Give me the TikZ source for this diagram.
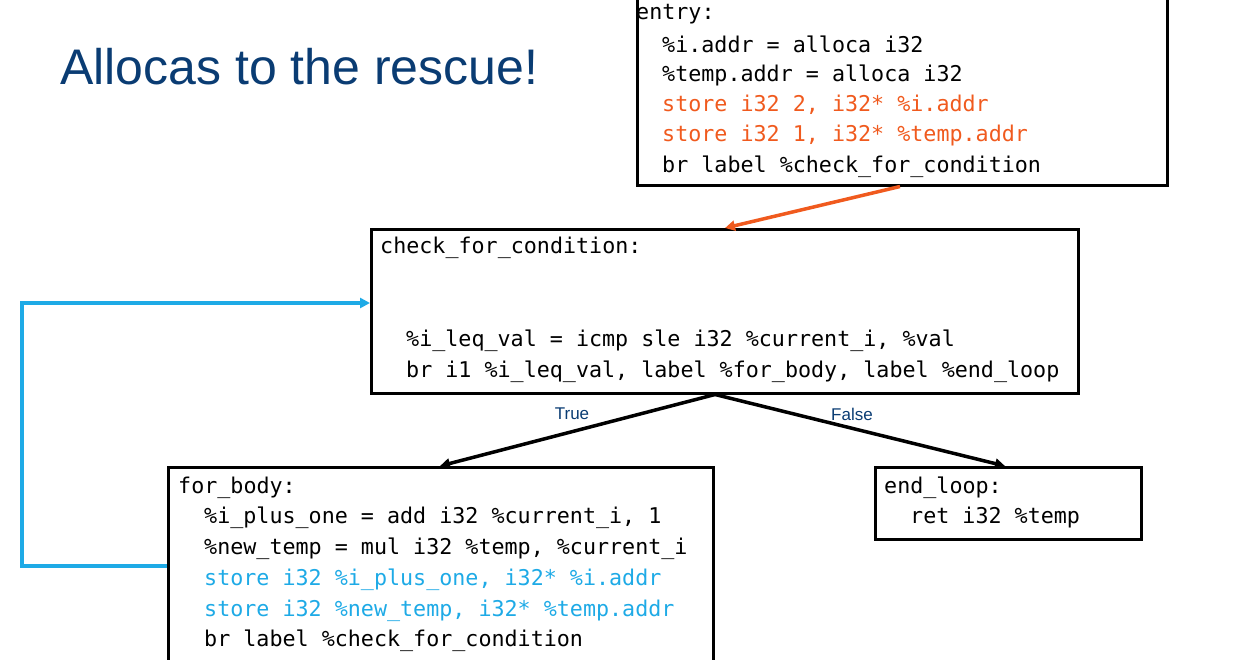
\documentclass[tikz,border=0pt]{standalone}
\usepackage{fontspec}
\setmainfont{Liberation Sans}
\newfontfamily\codefont{DejaVu Sans Mono}
\usetikzlibrary{arrows.meta,calc}
\definecolor{titleblue}{RGB}{10,60,115}
\definecolor{codeorange}{RGB}{240,90,30}
\definecolor{codeblue}{RGB}{30,170,230}
\begin{document}
\begin{tikzpicture}[x=1pt,y=-1pt,
  box/.style={draw,line width=2.5pt,inner sep=0pt,anchor=north west},
  code/.style={anchor=west,inner sep=0pt,font=\codefont\fontsize{21.7}{24}\selectfont},
  lbl/.style={inner sep=0pt,font=\fontsize{17}{19}\selectfont,text=titleblue},
  flow/.style={line width=3.5pt,-{Triangle[length=10pt,width=10pt]}}]
\useasboundingbox (0,0) rectangle (1242,659);
\node[anchor=west,inner sep=0pt,text=titleblue,font=\fontsize{50}{54}\selectfont] (title) at (60,67) {Allocas to the rescue!};
% boxes
\node[box,minimum width=530pt,minimum height=189pt] (entry) at (636,-5) {};
\node[box,minimum width=707pt,minimum height=164pt] (check) at (370,228) {};
\node[box,minimum width=545pt,minimum height=210pt] (body) at (167,466) {};
\node[box,minimum width=266pt,minimum height=72pt] (end) at (874,466) {};
% entry text
\node[code] (e0) at (636,14) {entry:};
\node[code] (e1) at (662,44) {\%i.addr = alloca i32};
\node[code] (e2) at (662,75) {\%temp.addr = alloca i32};
\node[code,text=codeorange] (e3) at (662,105) {store i32 2, i32* \%i.addr};
\node[code,text=codeorange] (e4) at (662,136) {store i32 1, i32* \%temp.addr};
\node[code] (e5) at (662,167) {br label \%check\_for\_condition};
% check text
\node[code] (c0) at (380,248) {check\_for\_condition:};
\node[code] (c1) at (406,341) {\%i\_leq\_val = icmp sle i32 \%current\_i, \%val};
\node[code] (c2) at (406,372) {br i1 \%i\_leq\_val, label \%for\_body, label \%end\_loop};
% body text
\node[code] (b0) at (178,488) {for\_body:};
\node[code] (b1) at (204,518) {\%i\_plus\_one = add i32 \%current\_i, 1};
\node[code] (b2) at (204,549) {\%new\_temp = mul i32 \%temp, \%current\_i};
\node[code,text=codeblue] (b3) at (204,580) {store i32 \%i\_plus\_one, i32* \%i.addr};
\node[code,text=codeblue] (b4) at (204,611) {store i32 \%new\_temp, i32* \%temp.addr};
\node[code] (b5) at (204,641) {br label \%check\_for\_condition};
% end text
\node[code] (d0) at (884,488) {end\_loop:};
\node[code] (d1) at (910,518) {ret i32 \%temp};
% connectors
\coordinate (eo) at ($(entry.south west)+(264,0)$);
\coordinate (ci) at ($(check.north west)+(355,0)$);
\draw[flow,codeorange] (eo) -- (ci);
\coordinate (cs) at ($(check.south west)+(345,0)$);
\coordinate (bi) at ($(body.north west)+(273,0)$);
\coordinate (di) at ($(end.north west)+(131,0)$);
\node[lbl] (t) at (572,414) {True};
\node[lbl] (f) at (852,414) {False};
\draw[flow] (cs) -- (bi);
\draw[flow] (cs) -- (di);
\coordinate (bo) at ($(body.north west)+(0,100)$);
\coordinate (ck) at ($(check.north west)+(0,75)$);
\draw[flow,codeblue] (bo) -- (22,566) -- (22,303) -- (ck);
\end{tikzpicture}
\end{document}
